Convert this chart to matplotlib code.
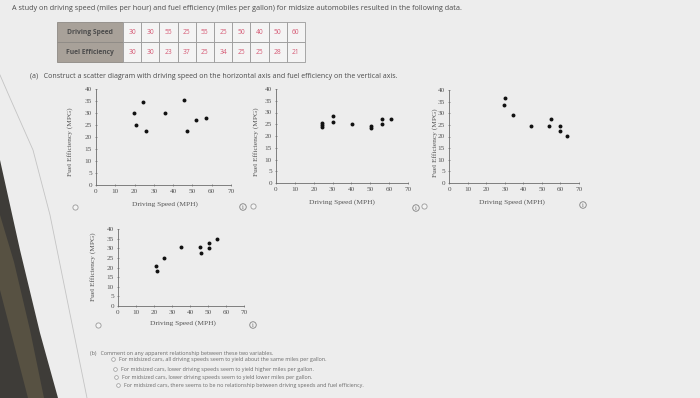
import matplotlib.pyplot as plt
from matplotlib.patches import Rectangle, Polygon

# data from the table
speed = [30, 30, 55, 25, 55, 25, 50, 40, 50, 60]
efficiency = [30, 30, 23, 37, 25, 34, 25, 25, 28, 21]

# the four answer choices
a_x = [19.5, 20.5, 24.5, 26, 36, 45.5, 47, 52, 57]
a_y = [30, 25, 34.5, 22.5, 30, 35.5, 22.5, 27, 28]
b_x = [24.5, 24.5, 24.5, 30, 30, 40.5, 50.5, 50.5, 56, 56, 61]
b_y = [25.5, 24.5, 23.7, 28.4, 25.8, 25.1, 24.4, 23.4, 27.2, 25.2, 27.2]
c_x = [30, 29.5, 34.5, 44, 54, 55, 59.5, 59.5, 63.5]
c_y = [36.7, 33.4, 29.2, 24.5, 24.5, 27.5, 24.5, 22.3, 20.4]
d_x = [21, 21.5, 25.5, 35, 45.5, 46, 50.5, 50.5, 55]
d_y = [21, 18, 25, 30.4, 30.4, 27.3, 32.9, 30.3, 34.8]

x_ticks = [0, 10, 20, 30, 40, 50, 60, 70]
y_ticks = [0, 5, 10, 15, 20, 25, 30, 35, 40]

options = [
    "For midsized cars, all driving speeds seem to yield about the same miles per gallon.",
    "For midsized cars, lower driving speeds seem to yield higher miles per gallon.",
    "For midsized cars, lower driving speeds seem to yield lower miles per gallon.",
    "For midsized cars, there seems to be no relationship between driving speeds and fuel efficiency.",
]

W, H = 700, 398
fig = plt.figure(figsize=(7, 3.98), dpi=100)
fig.patch.set_facecolor('#ededed')

# page layer in pixel coordinates
bg = fig.add_axes([0, 0, 1, 1])
bg.set_xlim(0, W)
bg.set_ylim(H, 0)
bg.axis('off')

txt = '#4a4a4a'
sans = 'Open Sans'
serif = 'Liberation Serif'

# screen edge in the lower left
bg.add_patch(Polygon([(0, 160), (20, 250), (40, 333), (58, 398), (0, 398)],
                     closed=True, color='#3e3c38', lw=0))
bg.add_patch(Polygon([(0, 215), (14, 262), (30, 330), (44, 398), (28, 398), (0, 290)],
                     closed=True, color='#575142', lw=0))
bg.plot([0, 10, 33, 50, 87], [75, 98, 150, 215, 398], color='#c4c4c4', lw=0.6)

bg.text(12, 8, "A study on driving speed (miles per hour) and fuel efficiency (miles per gallon) "
        "for midsize automobiles resulted in the following data.",
        fontsize=5.2, family=sans, color=txt, va='center')

# data table
hx0, hx1 = 57, 123
cw = (305 - hx1) / len(speed)
rows = [("Driving Speed", speed, 22), ("Fuel Efficiency", efficiency, 42)]
for label, vals, top in rows:
    bg.add_patch(Rectangle((hx0, top), hx1 - hx0, 20, facecolor='#a8a199',
                           edgecolor='#8e8a85', lw=0.6))
    bg.text((hx0 + hx1) / 2, top + 10, label, fontsize=4.9, family=sans,
            weight='bold', color='#4d4d4d', ha='center', va='center')
    for i, v in enumerate(vals):
        x = hx1 + i * cw
        bg.add_patch(Rectangle((x, top), cw, 20, facecolor='#f4f4f4',
                               edgecolor='#9a9a9a', lw=0.6))
        bg.text(x + cw / 2, top + 10, str(v), fontsize=4.8, family=sans,
                color='#d65a75', ha='center', va='center')

bg.text(30, 77, "(a)   Construct a scatter diagram with driving speed on the horizontal axis "
        "and fuel efficiency on the vertical axis.",
        fontsize=5.0, family=sans, color=txt, va='center')


def chart(xs, ys, x0, x70, y0, y40):
    ax = fig.add_axes([x0 / W, 1 - y0 / H, (x70 - x0) / W, (y0 - y40) / H])
    ax.set_facecolor('none')
    ax.scatter(xs, ys, s=8, color='#111111', zorder=3, lw=0)
    ax.set_xlim(0, 70)
    ax.set_ylim(0, 40)
    ax.set_xticks(x_ticks)
    ax.set_yticks(y_ticks)
    for s in ['top', 'right']:
        ax.spines[s].set_visible(False)
    for s in ['left', 'bottom']:
        ax.spines[s].set_color('#6d6d6d')
        ax.spines[s].set_linewidth(0.6)
    ax.tick_params(length=2, width=0.5, color='#6d6d6d', direction='inout', pad=2,
                   labelsize=5.2, labelcolor='#555555')
    for lab in ax.get_xticklabels() + ax.get_yticklabels():
        lab.set_family(serif)
    return ax


def info_icon(x, y):
    # circled "i" drawn as a shape, no installed font has the glyph
    bg.scatter([x], [y], s=22, facecolor='none', edgecolor='#808080', lw=0.6, zorder=3)
    bg.text(x, y + 0.3, "i", fontsize=4.6, family=serif, color='#707070',
            ha='center', va='center')


panels = [
    (a_x, a_y, 96, 231, 185, 89, (70, 142), (165, 204), (75, 207), (243, 207)),
    (b_x, b_y, 276, 408, 183, 89, (256, 142), (342, 202), (253, 206), (416, 208)),
    (c_x, c_y, 449, 579, 183, 90, (435, 143), (512, 202), (424, 206), (583, 205)),
    (d_x, d_y, 118, 244, 306, 229, (93, 267), (183, 323), (98, 325), (253, 325)),
]
for xs, ys, x0, x70, y0, y40, ylab, xlab, radio, info in panels:
    chart(xs, ys, x0, x70, y0, y40)
    bg.text(*ylab, "Fuel Efficiency (MPG)", rotation=90, fontsize=5.3, family=serif,
            color='#555555', ha='center', va='center')
    bg.text(*xlab, "Driving Speed (MPH)", fontsize=5.3, family=serif,
            color='#555555', ha='center', va='center')
    bg.scatter([radio[0]], [radio[1]], s=14, facecolor='#f4f4f4', edgecolor='#9a9a9a',
               lw=0.6, zorder=3)
    info_icon(*info)

# part (b)
bg.text(90, 353, "(b)   Comment on any apparent relationship between these two variables.",
        fontsize=3.9, family=sans, color='#6a6a6a', va='center')
for i, opt in enumerate(options):
    y = [359, 369, 377, 385][i]
    x = 113 + 1.7 * i
    bg.scatter([x], [y], s=7, facecolor='#f4f4f4', edgecolor='#9a9a9a', lw=0.5, zorder=3)
    bg.text(x + 6, y, opt, fontsize=3.9, family=sans, color='#6a6a6a', va='center')

fig.savefig('out.png', dpi=100, facecolor=fig.get_facecolor())
